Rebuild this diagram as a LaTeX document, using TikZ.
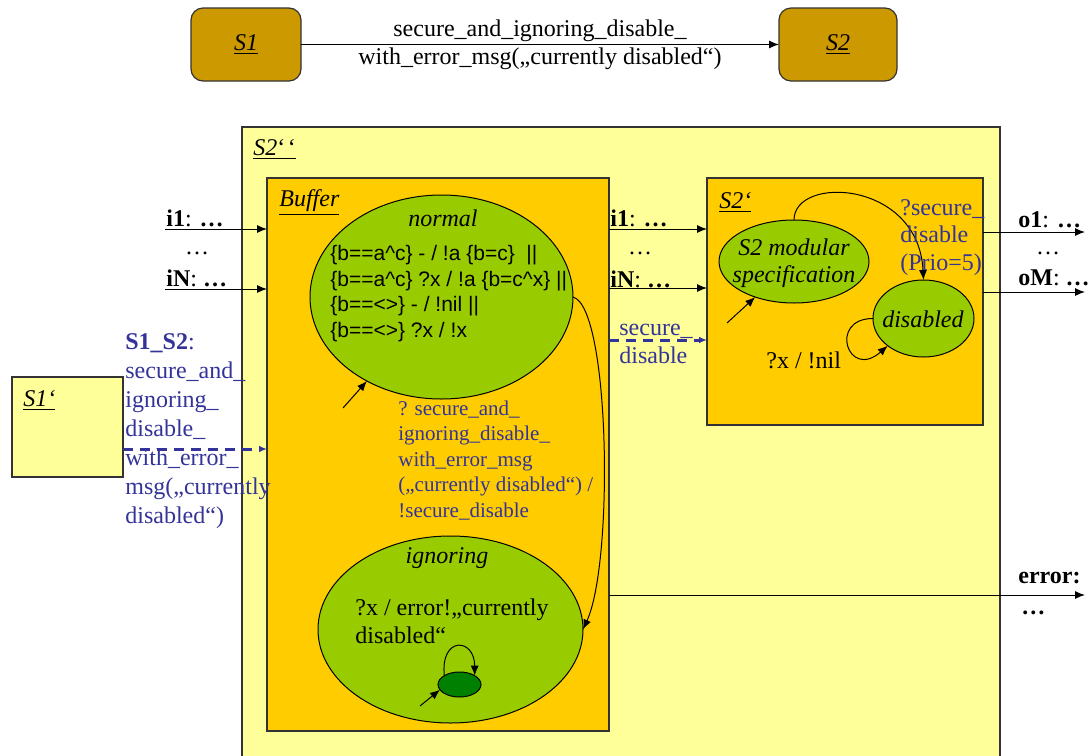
\documentclass[tikz,border=0pt]{standalone}
\usepackage{fontspec}
\setmainfont{Liberation Serif}
\newfontfamily\arial{Liberation Sans}
\usetikzlibrary{shapes.geometric,arrows.meta}

\definecolor{ocre}{HTML}{CC9900}
\definecolor{jaunepale}{HTML}{FFFF99}
\definecolor{jaune}{HTML}{FFCC00}
\definecolor{vert}{HTML}{99CC00}
\definecolor{vertfonce}{HTML}{008000}
\definecolor{encre}{HTML}{333399}

\tikzset{
  boite/.style={draw=black!80, line width=0.6pt, inner sep=0pt, outer sep=0pt},
  etat/.style={draw, ellipse, fill=vert, line width=0.5pt, inner sep=0pt, outer sep=0pt},
  txt/.style={inner sep=0pt, anchor=base west, align=left, font=\fontsize{12}{14}\selectfont},
  code/.style={txt, font=\arial\fontsize{10.5}{12.75}\selectfont},
  fleche/.style={-{Latex[length=5pt,width=4pt]}, line width=0.5pt},
  tirets/.style={-{Latex[length=4pt,width=3.4pt]}, draw=encre, line width=1.5pt, dash pattern=on 5pt off 3.5pt},
}

\begin{document}
\begin{tikzpicture}[x=0.5pt, y=-0.5pt]
\useasboundingbox (0,0) rectangle (1089,756);

% Transition du haut S1 -> S2
\node[boite, fill=ocre, rounded corners=6pt, minimum width=55pt, minimum height=36.5pt]
  (s1) at (246,44.5) {\fontsize{12}{14}\selectfont\underline{\textit{S1}}};
\node[boite, fill=ocre, rounded corners=6pt, minimum width=59pt, minimum height=36.5pt]
  (s2) at (838,44.5) {\fontsize{12}{14}\selectfont\underline{\textit{S2}}};
\draw[fleche] (s1) -- (s2);
\node[txt, anchor=base] (lib1) at (540,36) {secure\_and\_ignoring\_disable\_};
\node[txt, anchor=base] (lib2) at (540,64) {with\_error\_msg(„currently disabled“)};

% Boites
\node[boite, fill=jaunepale, anchor=north west, minimum width=379pt, minimum height=321.5pt]
  (s2pp) at (242,127) {};
\node[boite, fill=jaunepale, anchor=north west, minimum width=55.5pt, minimum height=50pt]
  (s1p) at (12,377) {};
\node[boite, fill=jaune, anchor=north west, minimum width=171pt, minimum height=276.5pt]
  (buffer) at (267,178) {};
\node[boite, fill=jaune, anchor=north west, minimum width=138pt, minimum height=123.5pt]
  (s2p) at (707,178) {};
\node[txt] (ts2pp) at (253,155) {\underline{\textit{S2}‘\kern1.2pt‘}};
\node[txt] (ts1p) at (23,406) {\underline{\textit{S1‘}}};
\node[txt] (tbuffer) at (279,206) {\underline{\textit{Buffer}}};
\node[txt] (ts2p) at (719,208) {\underline{\textit{S2‘}}};

% Etats
\node[etat, minimum width=131.5pt, minimum height=102pt] (normal) at (441.5,297) {};
\node[etat, minimum width=132.5pt, minimum height=93.5pt] (ignoring) at (450.5,629.5) {};
\node[etat, fill=vertfonce, minimum width=21.5pt, minimum height=12.5pt] (petit) at (459.5,684.5) {};
\node[etat, minimum width=75pt, minimum height=41.5pt] (s2mod) at (794,261.5) {};
\node[etat, minimum width=50.5pt, minimum height=38.5pt] (disabled) at (923.5,318.5) {};

% (pour un texte sur plusieurs lignes, base = derniere ligne)
\node[txt, anchor=base] (tnormal) at (443,226) {\textit{normal}};
\node[code] (tcode) at (330,337) {\{b==a\textasciicircum c\} - / !a \{b=c\}\ \ \textbar\textbar\\
  \{b==a\textasciicircum c\} ?x / !a \{b=c\textasciicircum x\} \textbar\textbar\\
  \{b==<>\} - / !nil \textbar\textbar\\
  \{b==<>\} ?x / !x};
\node[txt, anchor=base] (tignoring) at (447,563) {\textit{ignoring}};
\node[txt] (terreur) at (355,643) {?x / error!„currently\\disabled“};
\node[txt, anchor=base, align=center, font=\fontsize{12}{13.5}\selectfont] (ts2mod) at (794,282)
  {\textit{S2 modular}\\\textit{specification}};
\node[txt, anchor=base] (tdisabled) at (923,327) {\textit{disabled}};

% Transitions internes
\draw[fleche] (343,408) -- (normal);
\draw[fleche] (420,706) -- (petit.195);
\draw[fleche] (727,323) -- (s2mod);
\draw[fleche] (normal.east) .. controls +(37,10) and +(31,-68) .. (ignoring.east);
\draw[fleche] (petit.north west) .. controls +(-4,-40) and +(0,-38) .. (petit.north east);
\draw[fleche] (s2mod.north) .. controls +(0,-45) and +(-5,-100) .. (disabled.north);
\draw[fleche] (disabled.west) .. controls +(-45,0) and +(-40,35) .. (disabled.south west);

\node[txt, text=encre, font=\fontsize{10.5}{12.75}\selectfont] (tsecure) at (398,517)
  {? secure\_and\_\\ignoring\_disable\_\\with\_error\_msg\\(„currently disabled“) /\\!secure\_disable};
\node[txt, text=encre, font=\fontsize{12}{13.75}\selectfont] (tprio) at (900,270) {?secure\_\\disable\\(Prio=5)};
\node[txt] (tnil) at (766,368) {?x / !nil};

% Entrees
\coordinate (e1) at (165,229);
\coordinate (eN) at (165,289);
\draw[fleche] (e1) -- (e1 -| buffer.west);
\draw[fleche] (eN) -- (eN -| buffer.west);
\node[txt] (te1) at (166,226) {\textbf{i1}: \textbf{…}};
\node[txt, anchor=base] (tedots) at (197,254) {…};
\node[txt] (teN) at (166,286) {\textbf{iN}: \textbf{…}};

% Entrees de S2'
\coordinate (m1) at (609,229);
\coordinate (mN) at (609,288);
\draw[fleche] (m1 -| buffer.east) -- (m1 -| s2p.west);
\draw[fleche] (mN -| buffer.east) -- (mN -| s2p.west);
\node[txt] (tm1) at (610,226) {\textbf{i1}: \textbf{…}};
\node[txt, anchor=base] (tmdots) at (640,254) {…};
\node[txt] (tmN) at (610,287) {\textbf{iN}: \textbf{…}};

% Sorties
\coordinate (o1) at (1085,232);
\coordinate (oM) at (1085,292);
\coordinate (err) at (1085,595);
\draw[fleche] (o1 -| s2p.east) -- (o1);
\draw[fleche] (oM -| s2p.east) -- (oM);
\draw[fleche] (err -| buffer.east) -- (err);
\node[txt] (to1) at (1018,227) {\textbf{o1}: \textbf{…}};
\node[txt, anchor=base] (todots) at (1048,254) {…};
\node[txt] (toM) at (1018,285) {\textbf{oM}: \textbf{…}};
\node[txt] (terr) at (1018,583) {\textbf{error:}};
\node[txt] (terrdots) at (1021,614) {\textbf{…}};

% Signaux secure_disable (tirets)
\coordinate (d1) at (123,449);
\coordinate (d2) at (609,340);
\draw[tirets] (d1) -- (d1 -| buffer.west);
\draw[tirets] (d2) -- (d2 -| s2p.west);
\node[txt, text=encre, font=\fontsize{12}{14.5}\selectfont] (ts1s2) at (125,523)
  {\textbf{S1\_S2}:\\secure\_and\_\\ignoring\_\\disable\_\\with\_error\_\\msg(„currently\\disabled“)};
\node[txt, text=encre] (tsd) at (619,363) {secure\_\\disable};
\end{tikzpicture}
\end{document}
